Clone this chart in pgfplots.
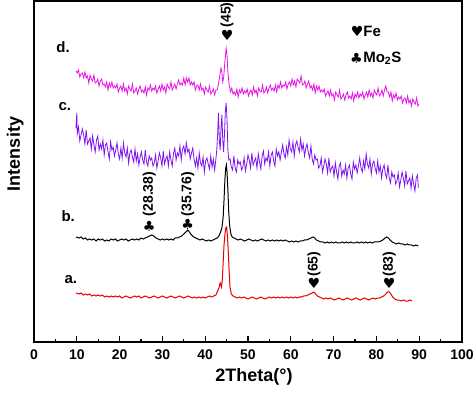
\documentclass[border=0pt]{standalone}
\usepackage{pgfplots}
\pgfplotsset{compat=1.18}
\usepackage{pgfplotstable}
\usepackage{fontspec}
\setmainfont{Liberation Sans}
\newfontfamily\sym{DejaVu Sans}
\definecolor{cmag}{RGB}{230,20,230}
\definecolor{cpur}{RGB}{125,20,240}
\definecolor{cred}{RGB}{230,0,0}

\pgfplotstableread{
x y
9.8 128
10.0 113
10.1 134
10.4 127
10.7 141
11.0 135
11.3 129
11.6 135
11.9 144
12.2 130
12.5 144
12.8 141
13.1 138
13.4 149
13.7 136
14.0 145
14.3 152
14.6 140
14.9 136
15.2 150
15.5 144
15.8 149
16.1 140
16.4 155
16.7 145
17.0 143
17.3 152
17.6 159
17.9 142
18.2 150
18.5 147
18.8 156
19.1 150
19.4 143
19.7 154
20.0 159
20.3 148
20.6 158
20.9 143
21.2 153
21.5 157
21.8 148
22.1 163
22.4 153
22.7 150
23.0 157
23.3 162
23.6 149
23.9 161
24.2 154
24.5 165
24.8 157
25.1 152
25.4 160
25.7 164
26.0 150
26.3 162
26.6 166
26.9 156
27.2 160
27.5 158
27.8 166
28.1 163
28.4 155
28.7 168
29.0 161
29.3 153
29.6 158
29.9 166
30.2 151
30.5 164
30.8 159
31.1 156
31.4 166
31.7 152
32.0 160
32.3 166
32.6 153
32.9 148
33.2 160
33.5 153
33.8 156
34.1 146
34.4 160
34.7 149
35.0 146
35.3 154
35.6 143
35.9 152
36.2 149
36.5 159
36.8 153
37.1 148
37.4 159
37.7 166
38.0 158
38.3 168
38.6 153
38.9 163
39.2 166
39.5 157
39.8 172
40.1 161
40.4 158
40.7 164
41.0 169
41.3 156
41.6 167
41.9 159
42.2 170
42.5 159
42.7 150
42.9 135
43.1 113
43.3 140
43.5 150
43.7 128
43.9 115
44.1 140
44.3 152
44.5 135
44.7 112
44.9 103
45.1 120
45.3 150
45.5 160
45.8 159
46.1 167
46.4 170
46.7 156
47.0 168
47.3 172
47.6 160
47.9 164
48.2 162
48.5 170
48.8 167
49.1 158
49.4 171
49.7 164
50.0 155
50.3 160
50.6 168
50.9 153
51.2 165
51.5 161
51.8 158
52.1 168
52.4 154
52.7 162
53.0 169
53.3 156
53.6 151
53.9 164
54.2 158
54.5 161
54.8 152
55.1 166
55.4 155
55.7 152
56.0 161
56.3 166
56.6 149
56.9 156
57.2 152
57.5 160
57.8 152
58.1 145
58.4 154
58.7 158
59.0 147
59.3 155
59.6 140
59.9 149
60.2 152
60.5 142
60.8 156
61.1 145
61.4 141
61.7 147
62.0 152
62.3 139
62.6 150
62.9 144
63.2 156
63.5 148
63.8 144
64.1 153
64.4 158
64.7 146
65.0 159
65.3 164
65.6 155
65.9 160
66.2 159
66.5 168
66.8 166
67.1 158
67.4 172
67.7 166
68.0 159
68.3 164
68.6 173
68.9 158
69.2 172
69.5 168
69.8 166
70.1 176
70.4 163
70.7 172
71.0 179
71.3 166
71.6 163
71.9 176
72.2 170
72.5 174
72.8 165
73.1 178
73.4 168
73.7 165
74.0 174
74.3 179
74.6 162
74.9 169
75.2 165
75.5 173
75.8 166
76.1 158
76.4 168
76.7 172
77.0 161
77.3 169
77.6 154
77.9 164
78.2 168
78.5 159
78.8 174
79.1 164
79.4 161
79.7 168
80.0 173
80.3 161
80.6 172
80.9 166
81.2 178
81.5 169
81.8 165
82.1 174
82.4 178
82.7 165
83.0 178
83.3 183
83.6 172
83.9 177
84.2 175
84.5 184
84.8 181
85.1 173
85.4 187
85.7 180
86.0 172
86.3 178
86.6 186
86.9 171
87.2 184
87.5 181
87.8 178
88.1 188
88.4 176
88.7 184
89.0 191
89.3 178
89.6 175
89.8 188
}\dataC

\pgfplotstableread{
x y
9.8 71
10.1 73
10.4 70
10.7 77
11.0 74
11.3 73
11.6 78
11.9 72
12.2 78
12.5 76
12.8 83
13.1 75
13.4 79
13.7 81
14.0 75
14.3 83
14.6 82
14.9 79
15.2 86
15.5 81
15.8 79
16.1 85
16.4 84
16.7 87
17.0 82
17.3 90
17.6 83
17.9 87
18.2 82
18.5 88
18.8 86
19.1 88
19.4 84
19.7 92
20.0 88
20.3 86
20.6 91
20.9 84
21.2 91
21.5 88
21.8 94
22.1 86
22.4 89
22.7 91
23.0 84
23.3 93
23.6 91
23.9 88
24.2 94
24.5 89
24.8 86
25.1 92
25.4 90
25.7 93
26.0 87
26.3 95
26.6 88
26.9 90
27.2 85
27.5 91
27.8 88
28.1 90
28.4 86
28.7 93
29.0 89
29.3 86
29.6 91
29.9 84
30.2 90
30.5 87
30.8 93
31.1 84
31.4 87
31.7 89
32.0 82
32.3 90
32.6 87
32.9 84
33.2 89
33.5 84
33.8 80
34.1 85
34.4 83
34.7 85
35.0 78
35.3 85
35.6 78
35.9 82
36.2 78
36.5 85
36.8 82
37.1 85
37.4 82
37.7 90
38.0 86
38.3 85
38.6 90
38.9 84
39.2 90
39.5 88
39.8 94
40.1 87
40.4 90
40.7 92
41.0 86
41.3 94
41.6 92
41.9 89
42.2 95
42.5 90
42.8 90
43.1 84
43.4 76
43.7 68
43.9 72
44.1 82
44.3 78
44.6 62
44.9 48
45.1 55
45.3 72
45.6 85
45.9 92
46.2 88
46.5 94
46.8 92
47.1 95
47.4 89
47.7 97
48.0 90
48.3 93
48.6 88
48.9 94
49.2 91
49.5 93
49.8 89
50.1 96
50.4 92
50.7 90
51.0 95
51.3 87
51.6 93
51.9 90
52.2 96
52.5 88
52.8 91
53.1 92
53.4 85
53.7 93
54.0 91
54.3 87
54.6 93
54.9 88
55.2 85
55.5 90
55.8 88
56.1 91
56.4 85
56.7 92
57.0 85
57.3 88
57.6 82
57.9 88
58.2 85
58.5 86
58.8 82
59.1 89
59.4 84
59.7 82
60.0 86
60.3 79
60.6 85
60.9 81
61.2 87
61.5 79
61.8 81
62.1 83
62.4 76
62.7 85
63.0 84
63.3 81
63.6 88
63.9 84
64.2 81
64.5 88
64.8 86
65.1 90
65.4 84
65.7 93
66.0 86
66.3 90
66.6 86
66.9 92
67.2 90
67.5 92
67.8 89
68.1 96
68.4 93
68.7 91
69.0 96
69.3 90
69.6 96
69.9 94
70.2 100
70.5 92
70.8 95
71.1 97
71.4 90
71.7 99
72.0 97
72.3 94
72.6 100
72.9 95
73.2 92
73.5 98
73.8 96
74.1 99
74.4 93
74.7 101
75.0 94
75.3 97
75.6 92
75.9 98
76.2 94
76.5 96
76.8 92
77.1 99
77.4 95
77.7 92
78.0 97
78.3 90
78.6 96
78.9 93
79.2 98
79.5 90
79.8 93
80.1 95
80.4 88
80.7 96
81.0 94
81.3 90
81.6 96
81.9 90
82.2 86
82.5 92
82.8 92
83.1 97
83.4 92
83.7 101
84.0 95
84.3 98
84.6 93
84.9 100
85.2 97
85.5 99
85.8 96
86.1 103
86.4 99
86.7 98
87.0 103
87.3 96
87.6 103
87.9 100
88.2 106
88.5 99
88.8 102
89.1 104
89.4 98
89.7 106
89.9 104
}\dataD

\pgfplotstableread{
x y
9.8 237
10.5 238
11.0 237
11.5 239
12.0 238
12.5 240
13.0 239
13.5 240
14.0 239
14.5 241
15.0 239
15.5 240
16.0 239
16.5 241
17.0 240
17.5 241
18.0 239
18.5 240
19.0 239
19.5 241
20.0 240
20.5 239
21.0 240
21.5 239
22.0 241
22.5 240
23.0 239
23.5 240
24.0 239
24.5 240
25.0 238
25.5 239
26.0 238
26.5 237
27.0 236
27.5 235
28.0 236
28.5 238
29.0 239
29.5 240
30.0 239
30.5 240
31.0 239
31.5 240
32.0 239
32.5 240
33.0 238
33.5 238
34.0 237
34.5 236
35.0 234
35.5 232
35.9 230
36.3 232
36.8 235
37.3 237
37.8 238
38.3 239
38.8 240
39.3 239
39.8 240
40.3 241
40.8 240
41.3 241
41.8 240
42.3 239
42.8 238
43.2 236
43.6 232
43.9 228
44.2 217
44.4 200
44.6 180
44.8 168
44.95 165
45.1 172
45.3 190
45.5 212
45.7 225
46.0 234
46.3 237
46.7 238
47.2 239
47.7 240
48.2 239
48.7 240
49.2 241
49.7 240
50.2 239
50.7 240
51.2 241
51.7 240
52.2 241
52.7 240
53.2 239
53.7 240
54.2 241
54.7 240
55.2 241
55.7 240
56.2 241
56.7 240
57.2 241
57.7 240
58.2 241
58.7 240
59.2 241
59.7 242
60.2 241
60.7 242
61.2 241
61.7 242
62.2 241
62.7 241
63.2 240
63.7 240
64.2 239
64.7 238
65.2 237
65.6 238
66.0 240
66.5 241
67.0 242
67.5 242
68.0 243
68.5 242
69.0 243
69.5 242
70.0 243
70.5 242
71.0 243
71.5 243
72.0 242
72.5 243
73.0 242
73.5 243
74.0 242
74.5 243
75.0 243
75.5 242
76.0 243
76.5 242
77.0 243
77.5 242
78.0 243
78.5 242
79.0 243
79.5 242
80.0 242
80.5 242
81.0 241
81.5 240
82.0 238
82.4 237
82.8 238
83.2 240
83.7 242
84.2 243
84.7 244
85.2 243
85.7 244
86.2 244
86.7 245
87.2 244
87.7 245
88.2 245
88.7 246
89.2 245
89.8 246
}\dataB

\pgfplotstableread{
x y
9.8 293
10.5 294
11.0 293
11.5 295
12.0 294
12.5 295
13.0 294
13.5 296
14.0 295
14.5 296
15.0 295
15.5 296
16.0 295
16.5 297
17.0 296
17.5 297
18.0 296
18.5 297
19.0 296
19.5 297
20.0 296
20.5 298
21.0 297
21.5 296
22.0 297
22.5 298
23.0 297
23.5 296
24.0 297
24.5 296
25.0 298
25.5 297
26.0 296
26.5 297
27.0 298
27.5 297
28.0 296
28.5 297
29.0 298
29.5 297
30.0 296
30.5 297
31.0 298
31.5 297
32.0 296
32.5 297
33.0 298
33.5 297
34.0 296
34.5 297
35.0 298
35.5 297
36.0 296
36.5 297
37.0 298
37.5 297
38.0 298
38.5 297
39.0 298
39.5 297
40.0 298
40.5 297
41.0 296
41.5 297
42.0 296
42.5 295
42.9 291
43.2 288
43.5 283
43.8 287
44.0 280
44.2 262
44.4 245
44.6 235
44.8 228
45.0 227
45.2 236
45.4 252
45.6 272
45.8 287
46.1 294
46.5 296
47.0 297
47.5 298
48.0 297
48.5 298
49.0 297
49.5 298
50.0 299
50.5 298
51.0 297
51.5 298
52.0 299
52.5 298
53.0 297
53.5 298
54.0 299
54.5 298
55.0 297
55.5 298
56.0 297
56.5 298
57.0 297
57.5 298
58.0 297
58.5 298
59.0 297
59.5 298
60.0 297
60.5 298
61.0 297
61.5 298
62.0 297
62.5 297
63.0 296
63.5 296
64.0 295
64.5 294
65.0 293
65.4 292
65.8 294
66.2 296
66.7 297
67.2 298
67.7 299
68.2 298
68.7 299
69.2 298
69.7 299
70.2 300
70.7 299
71.2 298
71.7 299
72.2 300
72.7 299
73.2 298
73.7 299
74.2 300
74.7 299
75.2 298
75.7 299
76.2 300
76.7 299
77.2 298
77.7 299
78.2 300
78.7 299
79.2 298
79.7 299
80.2 298
80.7 298
81.2 297
81.7 296
82.2 294
82.6 292
83.0 292
83.4 294
83.8 297
84.3 299
84.8 300
85.3 300
85.8 301
86.3 300
86.8 301
87.3 301
87.8 300
88.3 301
}\dataA

\begin{document}
\begin{tikzpicture}
\useasboundingbox (-34pt,-53pt) rectangle (440pt,342pt);
\begin{axis}[
  at={(0pt,0pt)}, anchor=south west,
  scale only axis, width=428pt, height=341pt,
  xmin=0, xmax=100, ymin=1, ymax=342, y dir=reverse,
  clip=false,
  xtick={0,10,...,100}, minor x tick num=1,
  xtick pos=bottom, ytick=\empty,
  tick align=inside,
  major tick length=6pt, minor tick length=3.5pt,
  axis line style={line width=1.3pt},
  every tick/.style={black, line width=1.1pt},
  /pgf/number format/assume math mode=true,
  xticklabel style={font=\bfseries\fontsize{14}{16}\selectfont, yshift=-4pt},
]
\addplot[cmag, line width=0.8pt] table[x=x,y=y] {\dataD};
\addplot[cpur, line width=0.8pt] table[x=x,y=y] {\dataC};
\addplot[black, line width=1.0pt] table[x=x,y=y] {\dataB};
\addplot[cred, line width=1.0pt] table[x=x,y=y] {\dataA};

\node[font=\bfseries\fontsize{18}{20}\selectfont] at (axis cs:51.4,377) {2Theta(°)};
\node[rotate=90, font=\bfseries\fontsize{18}{20}\selectfont] at (axis cs:-4.4,154) {Intensity};

\node[font=\bfseries\fontsize{15}{17}\selectfont] at (axis cs:6.8,47) {d.};
\node[font=\bfseries\fontsize{15}{17}\selectfont] at (axis cs:7.2,107) {c.};
\node[font=\bfseries\fontsize{15}{17}\selectfont] at (axis cs:8.0,216) {b.};
\node[font=\bfseries\fontsize{15}{17}\selectfont] at (axis cs:8.6,280) {a.};

\node[font=\sym\fontsize{14}{16}\selectfont, inner sep=0pt] at (axis cs:45.1,35) {♥};
\node[rotate=90, font=\bfseries\fontsize{14}{16}\selectfont, inner sep=0pt] at (axis cs:45.1,15) {(45)};
\node[font=\sym\fontsize{14}{16}\selectfont, inner sep=0pt] at (axis cs:26.9,226) {♣};
\node[rotate=90, font=\bfseries\fontsize{14}{16}\selectfont, inner sep=0pt] at (axis cs:26.9,194) {(28.38)};
\node[font=\sym\fontsize{14}{16}\selectfont, inner sep=0pt] at (axis cs:35.9,224) {♣};
\node[rotate=90, font=\bfseries\fontsize{14}{16}\selectfont, inner sep=0pt] at (axis cs:35.9,194) {(35.76)};
\node[font=\sym\fontsize{14}{16}\selectfont, inner sep=0pt] at (axis cs:65.4,283) {♥};
\node[rotate=90, font=\bfseries\fontsize{14}{16}\selectfont, inner sep=0pt] at (axis cs:65.4,264) {(65)};
\node[font=\sym\fontsize{14}{16}\selectfont, inner sep=0pt] at (axis cs:83.0,283) {♥};
\node[rotate=90, font=\bfseries\fontsize{14}{16}\selectfont, inner sep=0pt] at (axis cs:83.0,264) {(83)};

\node[font=\sym\fontsize{14}{16}\selectfont, inner sep=0pt] at (axis cs:75.5,31) {♥};
\node[anchor=west, font=\bfseries\fontsize{15}{17}\selectfont, inner sep=0pt] at (axis cs:76.9,31) {Fe};
\node[font=\sym\fontsize{14}{16}\selectfont, inner sep=0pt] at (axis cs:75.3,58) {♣};
\node[anchor=west, font=\bfseries\fontsize{15}{17}\selectfont, inner sep=0pt] at (axis cs:76.9,58) {Mo\textsubscript{2}S};
\end{axis}
\end{tikzpicture}
\end{document}
